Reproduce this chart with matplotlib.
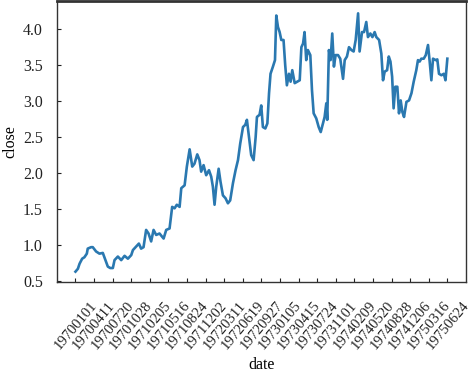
import matplotlib
matplotlib.use("Agg")
import matplotlib.pyplot as plt

# day index (days since 1970-01-01) and closing values
day_index = [0, 13, 22, 36, 48, 61, 66, 84, 93, 111, 129, 147, 161, 174, 187, 201,
             210, 228, 246, 264, 282, 300, 309, 327, 341, 353, 366, 380, 393, 407,
             420, 434, 452, 474, 488, 506, 520, 533, 545, 560, 569, 587, 599, 614,
             628, 640, 655, 667, 676, 689, 703, 718, 730, 739, 748, 757, 770, 780,
             793, 807, 820, 832, 847, 861, 874, 886, 901, 913, 922, 933, 945, 958,
             969, 976, 990, 999, 1008, 1021, 1032, 1041, 1049, 1062, 1073, 1080,
             1089, 1098, 1107, 1119, 1128, 1137, 1148, 1157, 1166, 1179, 1193, 1206,
             1215, 1224, 1232, 1241, 1250, 1263, 1272, 1281, 1295, 1308, 1319, 1331,
             1340, 1349, 1354, 1363, 1372, 1381, 1390, 1399, 1412, 1424, 1439, 1448,
             1460, 1471, 1484, 1496, 1507, 1520, 1528, 1541, 1552, 1564, 1573, 1586,
             1597, 1609, 1618, 1633, 1645, 1654, 1663, 1676, 1685, 1694, 1703, 1711,
             1720, 1731, 1740, 1749, 1758, 1767, 1780, 1794, 1807, 1819, 1833, 1842,
             1851, 1860, 1873, 1884, 1896, 1905, 1914, 1923, 1937, 1946, 1955, 1968,
             1981, 1990, 2000]
close = [0.63, 0.67, 0.74, 0.81, 0.83, 0.88, 0.95, 0.97, 0.97, 0.91, 0.88, 0.89,
         0.79, 0.70, 0.68, 0.68, 0.79, 0.84, 0.79, 0.85, 0.81, 0.86, 0.93, 0.98,
         1.02, 0.95, 0.97, 1.21, 1.16, 1.05, 1.21, 1.14, 1.16, 1.09, 1.21, 1.23,
         1.53, 1.51, 1.56, 1.53, 1.79, 1.83, 2.09, 2.33, 2.09, 2.13, 2.26, 2.18,
         2.02, 2.11, 1.97, 2.04, 1.95, 1.81, 1.56, 1.81, 2.06, 1.88, 1.69, 1.65,
         1.58, 1.62, 1.86, 2.04, 2.18, 2.41, 2.64, 2.67, 2.74, 2.50, 2.25, 2.18,
         2.50, 2.78, 2.81, 2.94, 2.64, 2.62, 2.69, 3.11, 3.38, 3.48, 3.57, 4.19,
         4.03, 3.96, 3.85, 3.85, 3.50, 3.22, 3.38, 3.27, 3.43, 3.25, 3.27, 3.29,
         3.75, 3.80, 3.96, 3.57, 3.71, 3.64, 3.15, 2.83, 2.76, 2.64, 2.57, 2.69,
         2.78, 2.97, 2.74, 3.71, 3.57, 3.94, 3.48, 3.64, 3.64, 3.59, 3.31, 3.57,
         3.62, 3.75, 3.71, 3.69, 3.85, 4.22, 3.69, 3.96, 3.96, 4.10, 3.89, 3.94,
         3.89, 3.96, 3.89, 3.85, 3.66, 3.29, 3.41, 3.43, 3.62, 3.55, 3.34, 2.90,
         3.20, 3.20, 2.83, 3.01, 2.85, 2.78, 2.99, 3.01, 3.11, 3.27, 3.43, 3.57,
         3.55, 3.59, 3.59, 3.64, 3.78, 3.55, 3.29, 3.59, 3.57, 3.58, 3.38, 3.36,
         3.38, 3.29, 3.59]

tick_days = list(range(0, 2001, 100))
tick_labels = ["19700101", "19700411", "19700720", "19701028", "19710205",
               "19710516", "19710824", "19711202", "19720311", "19720619",
               "19720927", "19730105", "19730415", "19730724", "19731101",
               "19740209", "19740520", "19740828", "19741206", "19750316",
               "19750624"]
y_ticks = [0.5, 1.0, 1.5, 2.0, 2.5, 3.0, 3.5, 4.0]

plt.rcParams['font.family'] = ['Liberation Serif', 'DejaVu Serif']

fig = plt.figure(figsize=(4.74, 3.74), dpi=100)
ax = fig.add_axes([0.120, 0.246, 0.863, 0.751])
ax.plot(day_index, close, color='#2a78b0', linewidth=1.9)

ax.set_xlim(-100, 2100)
ax.set_ylim(0.486, 4.39)
ax.set_xticks(tick_days)
ax.set_xticklabels(tick_labels, rotation=50, ha='center')
ax.set_yticks(y_ticks)
ax.set_yticklabels([f"{v:.1f}" for v in y_ticks])
ax.tick_params(direction='in', length=3, width=0.8, colors='#222222')
ax.tick_params(axis='x', labelsize=10.5, pad=12)
ax.tick_params(axis='y', labelsize=11.5, pad=10)
for s in ax.spines.values():
    s.set_color('#333333')
    s.set_linewidth(1.0)
ax.spines['top'].set_linewidth(2.0)

ax.set_xlabel('date', fontsize=11.5, va='top')
ax.xaxis.set_label_coords(0.5, -0.266)
ax.set_ylabel('close', fontsize=11.5)
ax.yaxis.set_label_coords(-0.095, 0.5)

fig.savefig('out.png', dpi=100)
